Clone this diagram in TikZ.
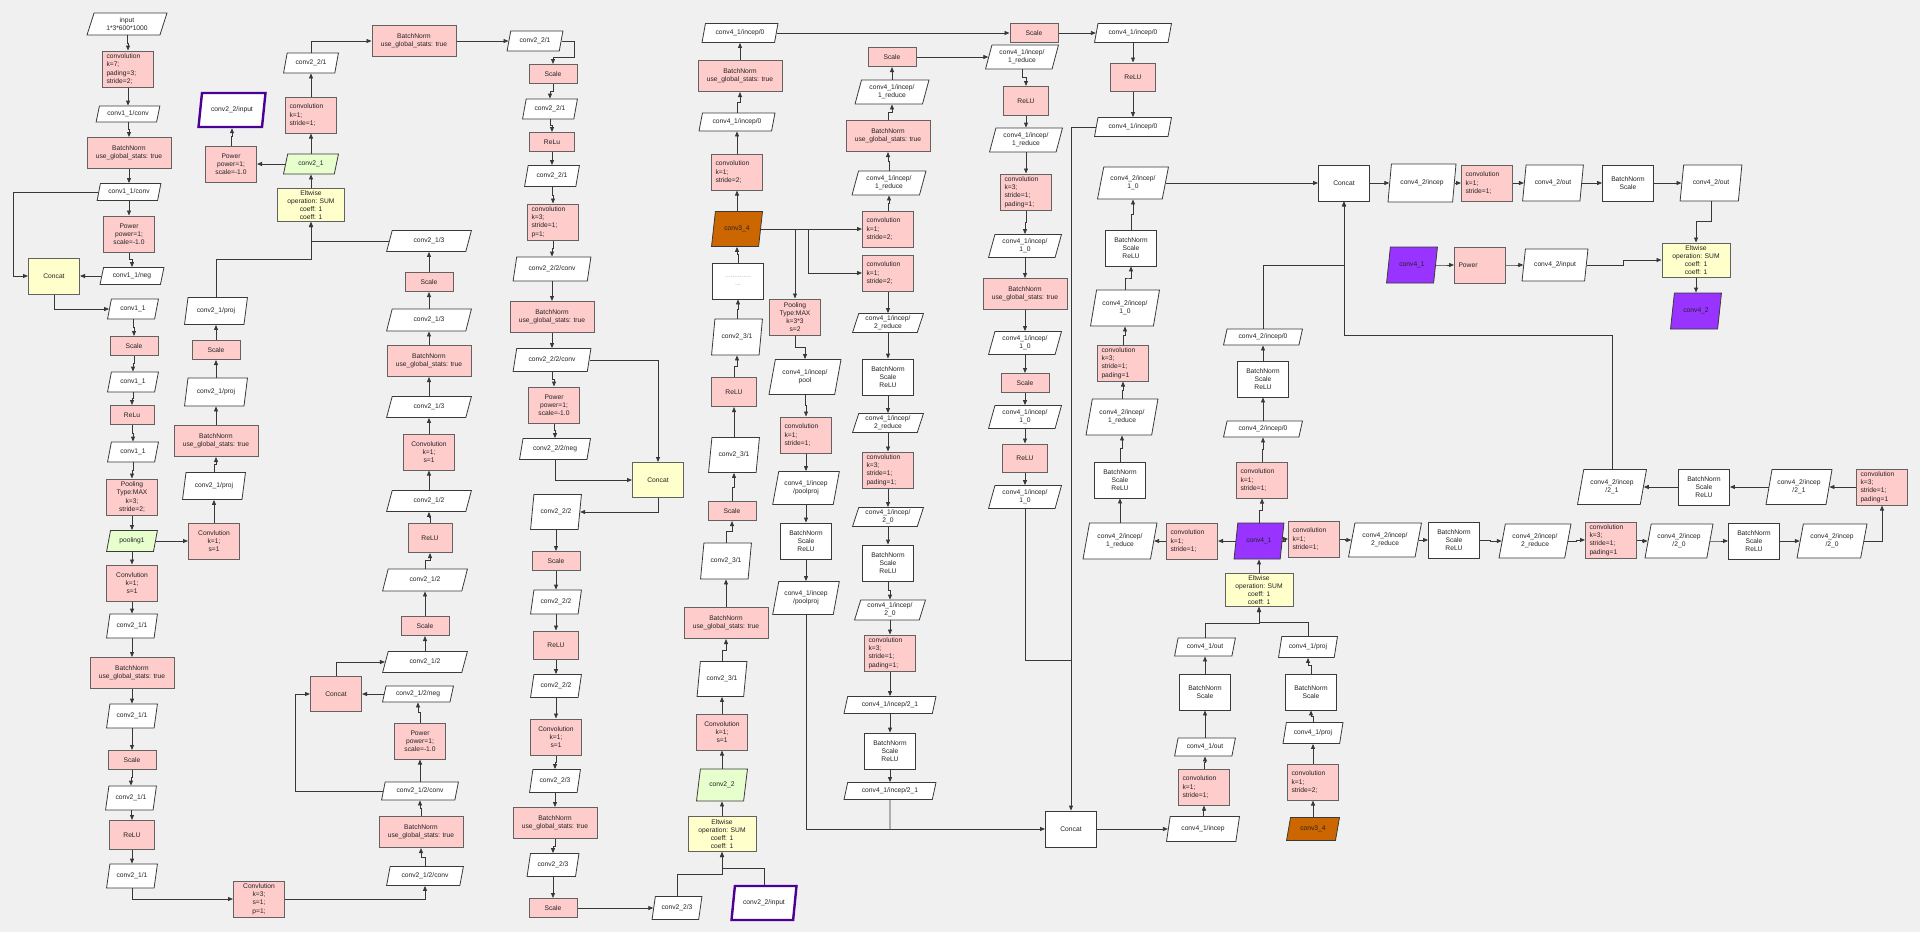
\documentclass[tikz,border=0pt]{standalone}
\usepackage{fontspec}
\setmainfont{Liberation Sans}
\usetikzlibrary{shapes.geometric,arrows.meta,calc}
\definecolor{bg}{HTML}{F0F0F0}
\definecolor{pinkf}{HTML}{FFCCCC}
\definecolor{yelf}{HTML}{FFFFCC}
\definecolor{grnf}{HTML}{E6FFCC}
\definecolor{orgf}{HTML}{CC6600}
\definecolor{purf}{HTML}{9933FF}
\definecolor{purb}{HTML}{4B0096}
\definecolor{bxd}{HTML}{626262}
\definecolor{wbd}{HTML}{3A3A3A}
\definecolor{txt}{HTML}{222222}
\definecolor{lnc}{HTML}{383838}
\tikzset{
 base/.style={font=\fontsize{6.7}{8.2}\selectfont, text=txt, inner sep=1pt, align=center},
 bx/.style={base, rectangle, draw=bxd, line width=1pt, fill=pinkf, minimum width=51, minimum height=36},
 bn/.style={bx, minimum width=84, minimum height=31},
 sc/.style={bx, minimum width=48, minimum height=19},
 rl/.style={bx, minimum width=45, minimum height=28},
 wb/.style={bx, fill=white, draw=wbd, line width=0.8pt},
 yb/.style={bx, fill=yelf},
 lft/.style={align=left, text width=43},
 pa/.style={base, trapezium, trapezium left angle=73, trapezium right angle=107, trapezium stretches=true, draw=wbd, line width=0.8pt, fill=white, minimum width=64, minimum height=18},
 ar/.style={draw=lnc, line width=0.8pt, -{Triangle[length=5pt,width=4pt]}},
 ln/.style={draw=lnc, line width=0.8pt},
 vz/.style={to path={(\tikztostart) |- ($(\tikztostart)!0.5!(\tikztotarget)$) -| (\tikztotarget)}},
 hz/.style={to path={(\tikztostart) -| ($(\tikztostart)!0.5!(\tikztotarget)$) |- (\tikztotarget)}},
}
\begin{document}
\begin{tikzpicture}[x=1pt,y=-1pt]
\fill[bg] (0,0) rectangle (1920,932);
\useasboundingbox (0,0) rectangle (1920,932);
% ---------- column 1
\node[pa, minimum width=80, minimum height=22] (n1) at (127,24) {input\\1*3*600*1000};
\node[bx, lft] (n2) at (128,69) {convolution\\k=7;\\pading=3;\\stride=2;};
\node[pa, minimum height=16] (n3) at (128,114) {conv1\_1/conv};
\node[bn] (n4) at (129,153) {BatchNorm\\use\_global\_stats: true};
\node[pa, minimum height=17] (n5) at (129,192) {conv1\_1/conv};
\node[bx] (n6) at (129,234) {Power\\power=1;\\scale=-1.0};
\node[pa, minimum height=17] (n7) at (132,276) {conv1\_1/neg};
\node[yb] (n8) at (54,276) {Concat};
\node[pa, minimum width=51, minimum height=20] (n9) at (133,309) {conv1\_1};
\node[sc] (n10) at (134,346) {Scale};
\node[pa, minimum width=51, minimum height=20] (n11) at (133,382) {conv1\_1};
\node[rl, minimum width=44, minimum height=19] (n12) at (132,415) {ReLu};
\node[pa, minimum width=51, minimum height=20] (n13) at (133,452) {conv1\_1};
\node[bx] (n14) at (132,497) {Pooling\\Type:MAX\\k=3;\\stride=2;};
\node[pa, fill=grnf, minimum width=51, minimum height=21] (n15) at (132,541) {pooling1};
\node[bx] (n16) at (132,583) {Convlution\\k=1;\\s=1};
\node[pa, minimum width=51, minimum height=24] (n17) at (132,626) {conv2\_1/1};
\node[bn] (n18) at (132,673) {BatchNorm\\use\_global\_stats: true};
\node[pa, minimum width=51, minimum height=24] (n19) at (132,716) {conv2\_1/1};
\node[sc] (n20) at (132,760) {Scale};
\node[pa, minimum width=51, minimum height=24] (n21) at (131,798) {conv2\_1/1};
\node[rl, minimum height=29] (n22) at (132,835) {ReLU};
\node[pa, minimum width=51, minimum height=24] (n23) at (132,876) {conv2\_1/1};
\node[bx] (n24) at (259,899) {Convlution\\k=3;\\s=1;\\p=1;};
% ---------- proj branch
\node[bx] (p1) at (214,541) {Convlution\\k=1;\\s=1};
\node[pa, minimum width=63, minimum height=27] (p2) at (214,486) {conv2\_1/proj};
\node[bn] (p3) at (216,441) {BatchNorm\\use\_global\_stats: true};
\node[pa, minimum width=63, minimum height=28] (p4) at (216,392) {conv2\_1/proj};
\node[sc] (p5) at (216,350) {Scale};
\node[pa, minimum width=63, minimum height=27] (p6) at (216,311) {conv2\_1/proj};
% ---------- column conv2_1/2
\node[pa, minimum width=77, minimum height=19] (c1) at (425,876) {conv2\_1/2/conv};
\node[bn] (c2) at (421,832) {BatchNorm\\use\_global\_stats: true};
\node[pa, minimum width=77, minimum height=18] (c3) at (420,791) {conv2\_1/2/conv};
\node[bx] (c4) at (420,741) {Power\\power=1;\\scale=-1.0};
\node[pa, minimum width=71, minimum height=16] (c5) at (418,694) {conv2\_1/2/neg};
\node[bx, minimum height=35] (c6) at (336,694) {Concat};
\node[pa, minimum width=85, minimum height=21] (c7) at (425,662) {conv2\_1/2};
\node[sc] (c8) at (425,626) {Scale};
\node[pa, minimum width=85, minimum height=22] (c9) at (425,580) {conv2\_1/2};
\node[rl, minimum width=44, minimum height=29] (c10) at (430,538) {ReLU};
\node[pa, minimum width=85, minimum height=21] (c11) at (429,501) {conv2\_1/2};
\node[bx] (c12) at (429,452) {Convolution\\k=1;\\s=1};
\node[pa, minimum width=85, minimum height=21] (c13) at (429,407) {conv2\_1/3};
\node[bn] (c14) at (429,361) {BatchNorm\\use\_global\_stats: true};
\node[pa, minimum width=85, minimum height=22] (c15) at (429,320) {conv2\_1/3};
\node[sc] (c16) at (429,282) {Scale};
\node[pa, minimum width=85, minimum height=21] (c17) at (429,241) {conv2\_1/3};
\node[yb, minimum width=67, minimum height=33, inner sep=0.5pt] (c18) at (311,205) {Eltwise\\operation: SUM\\coeff: 1\\coeff: 1};
\node[pa, fill=grnf, minimum width=55, minimum height=20] (c19) at (311,164) {conv2\_1};
\node[bx] (c20) at (231,164) {Power\\power=1;\\scale=-1.0};
\node[pa, draw=purb, line width=2.4pt, minimum width=67, minimum height=34] (c21) at (232,110) {conv2\_2/input};
\node[bx, lft] (c22) at (311,115) {convolution\\k=1;\\stride=1;};
\node[pa, minimum width=55, minimum height=20] (c23) at (311,63) {conv2\_2/1};
\node[bn] (c24) at (414,41) {BatchNorm\\use\_global\_stats: true};
% ---------- column conv2_2
\node[pa, minimum width=56, minimum height=20] (d1) at (535,41) {conv2\_2/1};
\node[sc] (d2) at (553,74) {Scale};
\node[pa, minimum width=55, minimum height=20] (d3) at (550,109) {conv2\_2/1};
\node[rl, minimum height=19] (d4) at (552,142) {ReLu};
\node[pa, minimum width=55, minimum height=21] (d5) at (552,176) {conv2\_2/1};
\node[bx, lft] (d6) at (553,222) {convolution\\k=3;\\stride=1;\\p=1;};
\node[pa, minimum width=78, minimum height=24] (d7) at (552,269) {conv2\_2/2/conv};
\node[bn] (d8) at (552,317) {BatchNorm\\use\_global\_stats: true};
\node[pa, minimum width=78, minimum height=23] (d9) at (552,360) {conv2\_2/2/conv};
\node[bx] (d10) at (554,405) {Power\\power=1;\\scale=-1.0};
\node[pa, minimum width=71, minimum height=21] (d11) at (555,449) {conv2\_2/2/neg};
\node[yb, minimum height=35] (d12) at (658,480) {Concat};
\node[pa, minimum width=51, minimum height=35] (d13) at (556,512) {conv2\_2/2};
\node[sc] (d14) at (556,561) {Scale};
\node[pa, minimum width=51, minimum height=24] (d15) at (556,602) {conv2\_2/2};
\node[rl] (d16) at (556,645) {ReLU};
\node[pa, minimum width=51, minimum height=23] (d17) at (556,686) {conv2\_2/2};
\node[bx] (d18) at (556,737) {Convolution\\k=1;\\s=1};
\node[pa, minimum width=51, minimum height=23] (d19) at (555,781) {conv2\_2/3};
\node[bn] (d20) at (555,823) {BatchNorm\\use\_global\_stats: true};
\node[pa, minimum width=52, minimum height=23] (d21) at (553,865) {conv2\_2/3};
\node[sc] (d22) at (553,908) {Scale};
\node[pa, minimum width=50, minimum height=23] (d23) at (677,908) {conv2\_2/3};
\node[yb, minimum width=68, minimum height=35, inner sep=0.5pt] (d24) at (722,834) {Eltwise\\operation: SUM\\coeff: 1\\coeff: 1};
\node[pa, draw=purb, line width=2.4pt, minimum width=65, minimum height=34] (d25) at (764,903) {conv2\_2/input};
\node[pa, fill=grnf, minimum width=51, minimum height=32] (d26) at (722,785) {conv2\_2};
\node[bx] (d27) at (722,732) {Convolution\\k=1;\\s=1};
\node[pa, minimum width=50, minimum height=35] (d28) at (722,679) {conv2\_3/1};
\node[bn] (d29) at (726,623) {BatchNorm\\use\_global\_stats: true};
\node[pa, minimum width=51, minimum height=36] (d30) at (726,561) {conv2\_3/1};
\node[sc] (d31) at (732,511) {Scale};
\node[pa, minimum width=51, minimum height=35] (d32) at (734,455) {conv2\_3/1};
\node[rl, minimum height=29] (d33) at (734,392) {ReLU};
\node[pa, minimum width=51, minimum height=36] (d34) at (737,337) {conv2\_3/1};
\node[wb] (d35) at (738,281) {{\color{gray!70}..............}\\{\color{gray!70}...}};
\node[pa, fill=orgf, minimum width=51, minimum height=35] (d36) at (737,229) {conv3\_4};
\node[bx, lft] (d37) at (737,172) {convolution\\k=1;\\stride=2;};
\node[pa, minimum width=76, minimum height=18] (d38) at (737,122) {conv4\_1/incep/0};
\node[bn] (d39) at (740,76) {BatchNorm\\use\_global\_stats: true};
\node[pa, minimum width=76, minimum height=19] (d40) at (740,33) {conv4\_1/incep/0};
% ---------- inception 4_1
\node[bx, lft] (e1) at (888,229) {convolution\\k=1;\\stride=2;};
\node[pa, minimum width=74, minimum height=24] (e2) at (889,183) {conv4\_1/incep/\\1\_reduce};
\node[bn] (e3) at (888,136) {BatchNorm\\use\_global\_stats: true};
\node[pa, minimum width=74, minimum height=24] (e4) at (892,92) {conv4\_1/incep/\\1\_reduce};
\node[sc] (e5) at (892,57) {Scale};
\node[pa, minimum width=73, minimum height=24] (e6) at (1022,57) {conv4\_1/incep/\\1\_reduce};
\node[rl, minimum height=29] (e7) at (1026,101) {ReLU};
\node[pa, minimum width=73, minimum height=24] (e8) at (1026,140) {conv4\_1/incep/\\1\_reduce};
\node[bx, lft] (e9) at (1026,192) {convolution\\k=3;\\stride=1;\\pading=1;};
\node[pa, minimum width=73, minimum height=23] (e10) at (1025,246) {conv4\_1/incep/\\1\_0};
\node[bn] (e11) at (1025,294) {BatchNorm\\use\_global\_stats: true};
\node[pa, minimum width=73, minimum height=23] (e12) at (1025,343) {conv4\_1/incep/\\1\_0};
\node[sc] (e13) at (1025,383) {Scale};
\node[pa, minimum width=73, minimum height=23] (e14) at (1025,417) {conv4\_1/incep/\\1\_0};
\node[rl] (e15) at (1025,458) {ReLU};
\node[pa, minimum width=73, minimum height=23] (e16) at (1025,497) {conv4\_1/incep/\\1\_0};
\node[sc] (f1) at (1034,33) {Scale};
\node[pa, minimum width=77, minimum height=19] (f2) at (1133,33) {conv4\_1/incep/0};
\node[rl] (f3) at (1133,77) {ReLU};
\node[pa, minimum width=77, minimum height=19] (f4) at (1133,127) {conv4\_1/incep/0};
\node[bx, lft] (g1) at (888,273) {convolution\\k=1;\\stride=2;};
\node[pa, minimum width=71, minimum height=19] (g2) at (888,323) {conv4\_1/incep/\\2\_reduce};
\node[wb] (g3) at (888,377) {BatchNorm\\Scale\\ReLU};
\node[pa, minimum width=71, minimum height=19] (g4) at (888,423) {conv4\_1/incep/\\2\_reduce};
\node[bx, lft] (g5) at (888,470) {convolution\\k=3;\\stride=1;\\pading=1;};
\node[pa, minimum width=71, minimum height=19] (g6) at (888,517) {conv4\_1/incep/\\2\_0};
\node[wb] (g7) at (888,563) {BatchNorm\\Scale\\ReLU};
\node[pa, minimum width=71, minimum height=20] (g8) at (890,610) {conv4\_1/incep/\\2\_0};
\node[bx, lft] (g9) at (890,653) {convolution\\k=3;\\stride=1;\\pading=1;};
\node[pa, minimum width=92, minimum height=17] (g10) at (890,705) {conv4\_1/incep/2\_1};
\node[wb] (g11) at (890,751) {BatchNorm\\Scale\\ReLU};
\node[pa, minimum width=92, minimum height=17] (g12) at (890,791) {conv4\_1/incep/2\_1};
\node[bx] (h1) at (795,317) {Pooling\\Type:MAX\\k=3*3\\s=2};
\node[pa, minimum width=72, minimum height=35] (h2) at (805,377) {conv4\_1/incep/\\pool};
\node[bx, lft] (h3) at (806,435) {convolution\\k=1;\\stride=1;};
\node[pa, minimum width=67, minimum height=33] (h4) at (806,488) {conv4\_1/incep\\/poolproj};
\node[wb] (h5) at (806,541) {BatchNorm\\Scale\\ReLU};
\node[pa, minimum width=67, minimum height=33] (h6) at (806,598) {conv4\_1/incep\\/poolproj};
\node[wb] (k1) at (1071,829) {Concat};
\node[pa, minimum width=73, minimum height=25] (k2) at (1203,829) {conv4\_1/incep};
\node[bx, lft] (k3) at (1204,787) {convolution\\k=1;\\stride=1;};
\node[pa, minimum width=61, minimum height=18] (k4) at (1205,747) {conv4\_1/out};
\node[wb] (k5) at (1205,692) {BatchNorm\\Scale};
\node[pa, minimum width=61, minimum height=18] (k6) at (1205,647) {conv4\_1/out};
\node[pa, fill=orgf, minimum width=53, minimum height=23] (l1) at (1313,829) {conv3\_4};
\node[bx, lft] (l2) at (1313,782) {convolution\\k=1;\\stride=2;};
\node[pa, minimum width=60, minimum height=21] (l3) at (1313,733) {conv4\_1/proj};
\node[wb] (l4) at (1311,692) {BatchNorm\\Scale};
\node[pa, minimum width=59, minimum height=21] (l5) at (1308,647) {conv4\_1/proj};
% ---------- conv4_2
\node[yb, minimum width=68, minimum height=33, inner sep=0.5pt] (m1) at (1259,590) {Eltwise\\operation: SUM\\coeff: 1\\coeff: 1};
\node[pa, fill=purf, minimum width=50, minimum height=36] (m2) at (1259,541) {conv4\_1};
\node[bx, lft] (m3) at (1262,480) {convolution\\k=1;\\stride=1;};
\node[pa, minimum width=79, minimum height=16] (m4) at (1263,429) {conv4\_2/incep/0};
\node[wb] (m5) at (1263,379) {BatchNorm\\Scale\\ReLU};
\node[pa, minimum width=79, minimum height=16] (m6) at (1263,337) {conv4\_2/incep/0};
\node[wb] (m7) at (1344,183) {Concat};
\node[bx, lft] (q1) at (1192,541) {convolution\\k=1;\\stride=1;};
\node[pa, minimum width=74, minimum height=36] (q2) at (1120,541) {conv4\_2/incep/\\1\_reduce};
\node[wb] (q3) at (1120,480) {BatchNorm\\Scale\\ReLU};
\node[pa, minimum width=72, minimum height=36] (q4) at (1122,417) {conv4\_2/incep/\\1\_reduce};
\node[bx, lft] (q5) at (1123,363) {convolution\\k=3;\\stride=1;\\pading=1};
\node[pa, minimum width=69, minimum height=36] (q6) at (1125,308) {conv4\_2/incep/\\1\_0};
\node[wb] (q7) at (1131,248) {BatchNorm\\Scale\\ReLU};
\node[pa, minimum width=71, minimum height=32] (q8) at (1133,183) {conv4\_2/incep/\\1\_0};
\node[pa, minimum width=68, minimum height=38] (r1) at (1422,183) {conv4\_2/incep};
\node[bx, lft] (r2) at (1487,183) {convolution\\k=1;\\stride=1;};
\node[pa, minimum width=61, minimum height=36] (r3) at (1553,183) {conv4\_2/out};
\node[wb] (r4) at (1628,183) {BatchNorm\\Scale};
\node[pa, minimum width=62, minimum height=36] (r5) at (1711,183) {conv4\_2/out};
\node[yb, minimum width=68, minimum height=34, inner sep=0.5pt] (r6) at (1696,260) {Eltwise\\operation: SUM\\coeff: 1\\coeff: 1};
\node[pa, fill=purf, minimum width=51, minimum height=36] (r7) at (1412,265) {conv4\_1};
\node[bx, lft] (r8) at (1480,265) {Power};
\node[pa, minimum width=66, minimum height=32] (r9) at (1555,265) {conv4\_2/input};
\node[pa, fill=purf, minimum width=51, minimum height=36] (r10) at (1696,311) {conv4\_2};
\node[bx, lft] (s1) at (1314,539) {convolution\\k=1;\\stride=1;};
\node[pa, minimum width=73, minimum height=34] (s2) at (1385,540) {conv4\_2/incep/\\2\_reduce};
\node[wb] (s3) at (1454,540) {BatchNorm\\Scale\\ReLU};
\node[pa, minimum width=72, minimum height=34] (s4) at (1535,541) {conv4\_2/incep/\\2\_reduce};
\node[bx, lft] (s5) at (1611,540) {convolution\\k=3;\\stride=1;\\pading=1};
\node[pa, minimum width=68, minimum height=34] (s6) at (1679,541) {conv4\_2/incep\\/2\_0};
\node[wb] (s7) at (1754,541) {BatchNorm\\Scale\\ReLU};
\node[pa, minimum width=70, minimum height=34] (s8) at (1832,541) {conv4\_2/incep\\/2\_0};
\node[bx, lft] (s9) at (1882,487) {convolution\\k=3;\\stride=1;\\pading=1};
\node[pa, minimum width=66, minimum height=35] (s10) at (1799,487) {conv4\_2/incep\\/2\_1};
\node[wb] (s11) at (1704,487) {BatchNorm\\Scale\\ReLU};
\node[pa, minimum width=69, minimum height=35] (s12) at (1612,487) {conv4\_2/incep\\/2\_1};
% ---------- connectors
\foreach \a/\b in {n1/n2,n2/n3,n3/n4,n4/n5,n5/n6,n6/n7,n9/n10,n10/n11,n11/n12,n12/n13,n13/n14,n14/n15,n15/n16,n16/n17,n17/n18,n18/n19,n19/n20,n20/n21,n21/n22,n22/n23,
 d2/d3,d3/d4,d4/d5,d5/d6,d6/d7,d7/d8,d8/d9,d9/d10,d10/d11,d13/d14,d14/d15,d15/d16,d16/d17,d17/d18,d18/d19,d19/d20,d20/d21,d21/d22,
 f2/f3,f3/f4,e6/e7,e7/e8,e8/e9,e9/e10,e10/e11,e11/e12,e12/e13,e13/e14,e14/e15,e15/e16,
 g1/g2,g2/g3,g3/g4,g4/g5,g5/g6,g6/g7,g7/g8,g8/g9,g9/g10,g10/g11,g11/g12,
 h1/h2,h2/h3,h3/h4,h4/h5,h5/h6,r6/r10}
 \draw[ar] (\a.south) to[vz] (\b.north);
\foreach \a/\b in {p1/p2,p2/p3,p3/p4,p4/p5,p5/p6,c1/c2,c2/c3,c3/c4,c4/c5,c7/c8,c8/c9,c9/c10,c10/c11,c11/c12,c12/c13,c13/c14,c14/c15,c15/c16,c16/c17,
 c18/c19,c20/c21,c19/c22,c22/c23,d24/d26,d26/d27,d27/d28,d28/d29,d29/d30,d30/d31,d31/d32,d32/d33,d33/d34,d34/d35,d35/d36,d36/d37,d37/d38,d38/d39,d39/d40,
 e1/e2,e2/e3,e3/e4,e4/e5,k2/k3,k3/k4,k4/k5,k5/k6,l1/l2,l2/l3,l3/l4,l4/l5,m1/m2,m2/m3,m3/m4,m4/m5,m5/m6,q2/q3,q3/q4,q4/q5,q5/q6,q6/q7,q7/q8}
 \draw[ar] (\a.north) to[vz] (\b.south);
\foreach \a/\b in {c24/d1,d22/d23,d40/f1,f1/f2,e5/e6,k1/k2,m2/s1,s1/s2,s2/s3,s3/s4,s4/s5,s5/s6,s6/s7,s7/s8,q8/m7,m7/r1,r1/r2,r2/r3,r3/r4,r4/r5,r7/r8,r8/r9,n15/p1,d36/e1}
 \draw[ar] (\a.east) to[hz] (\b.west);
\foreach \a/\b in {n7/n8,c19/c20,c5/c6,m2/q1,q1/q2,s9/s10,s10/s11,s11/s12}
 \draw[ar] (\a.west) to[hz] (\b.east);
\draw[ar] (n5.west) -| (13,276) -- (n8.west);
\draw[ar] (n8.south) |- (n9.west);
\draw[ar] (n23.south) |- (n24.west);
\draw[ar] (n24.east) -| (c1.south);
\draw[ar] (c3.west) -| (295,694) -- (c6.west);
\draw[ar] (c6.north) |- (c7.west);
\draw[ar] (c17.west) -| (c18.south);
\draw[ar] (p6.north) |- (311,259) -- (c18.south);
\draw[ar] (c23.north) |- (c24.west);
\draw[ar] (d1.east) -| (574,57) -| (d2.north);
\draw[ar] (d11.south) |- (d12.west);
\draw[ar] (d9.east) -| (d12.north);
\draw[ar] (d12.south) |- (d13.east);
\draw[ar] (d23.north) |- (722,874) -- (d24.south);
\draw[ar] (d25.north) |- (722,868) -- (d24.south);
\coordinate (b1) at (795,229);
\coordinate (b2) at (808,229);
\draw[ar] (b1) -- (h1.north);
\draw[ar] (b2) |- (g1.west);
\draw[ar] (f4.west) -| (k1.north);
\draw[ln] (e16.south) |- (1071,660);
\draw[ln] (g12.south) -- (890,829);
\draw[ar] (h6.south) |- (k1.west);
\draw[ar] (k6.north) |- (1259,623) -- (m1.south);
\draw[ar] (l5.north) |- (1259,622) -- (m1.south);
\draw[ar] (m6.north) |- (1344,265) -- (m7.south);
\draw[ar] (s12.north) |- (1344,335) -- (m7.south);
\draw[ar] (s8.east) -| (s9.south);
\draw[ar] (r5.south) |- (1696,221) -- (r6.north);
\draw[ar] (r9.east) -| (1623,260) -- (r6.west);
\end{tikzpicture}
\end{document}
